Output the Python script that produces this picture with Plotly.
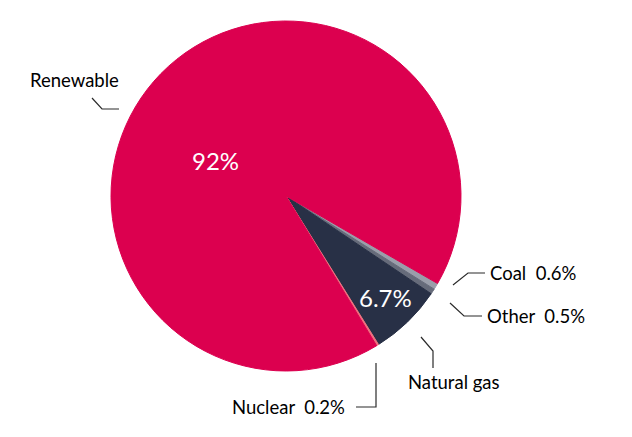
import plotly.graph_objects as go

W, H = 632, 437
PAD = 8  # page body margin of the browser

# energy mix shares (%), in clockwise drawing order
labels = ["Coal", "Other", "Natural gas", "Nuclear", "Renewable"]
shares = [0.6, 0.5, 6.7, 0.2, 92.0]
colors = ["#9a9eaa", "#666b7a", "#283046", "#f0717f", "#dc004f"]

# slices big enough get their share printed inside
inside_min = 5.0

# callout layout in screen pixels: leader polyline and label anchor
callouts = {
    "Renewable": dict(line=[(119, 109), (102, 109), (92, 98)], pos=(28, 80), xanchor="left"),
    "Coal": dict(line=[(453, 285), (468, 273), (485, 273)], pos=(488, 273), xanchor="left"),
    "Other": dict(line=[(450, 303), (464, 316), (482, 316)], pos=(485, 316), xanchor="left"),
    "Natural gas": dict(line=[(421, 337), (433, 351), (433, 368)], pos=(454, 382), xanchor="center"),
    "Nuclear": dict(line=[(376, 363), (376, 407), (356, 407)], pos=(347, 407), xanchor="right"),
}
inside_pos = {"Renewable": (215, 160), "Natural gas": (385, 297)}

fw, fh = W - 2 * PAD, H - 2 * PAD


def px(x):
    return (x - PAD) / fw


def py(y):
    return 1 - (y - PAD) / fh


fig = go.Figure(go.Pie(
    labels=labels,
    values=shares,
    sort=False,
    direction="clockwise",
    rotation=120,
    # outline each slice in its own colour so the thin slivers stay visible
    marker=dict(colors=colors, line=dict(color=colors, width=1)),
    textinfo="none",
    hovertemplate="%{label}: %{value}%<extra></extra>",
    domain=dict(x=[px(111), px(461)], y=[py(371), py(21)]),
    showlegend=False,
))

font = "Lato, 'Open Sans', sans-serif"
for name, share in zip(labels, shares):
    c = callouts[name]
    path = "M " + " L ".join(f"{px(x)},{py(y)}" for x, y in c["line"])
    fig.add_shape(type="path", path=path, xref="paper", yref="paper",
                  line=dict(color="#2b2b2b", width=1.2))
    text = name if share >= inside_min else f"{name} \u00a0{share:g}%"
    fig.add_annotation(x=px(c["pos"][0]), y=py(c["pos"][1]), xref="paper", yref="paper",
                       text=text, showarrow=False, xanchor=c["xanchor"], yanchor="middle",
                       font=dict(family=font, size=18.5, color="#000000"))
    if share >= inside_min:
        ix, iy = inside_pos[name]
        fig.add_annotation(x=px(ix), y=py(iy), xref="paper", yref="paper",
                           text=f"{share:g}%", showarrow=False,
                           xanchor="center", yanchor="middle",
                           font=dict(family=font, size=24, color="white"))

fig.update_layout(
    width=fw, height=fh,
    margin=dict(l=0, r=0, t=0, b=0),
    paper_bgcolor="white",
    plot_bgcolor="white",
)

fig.write_html("out.html")
